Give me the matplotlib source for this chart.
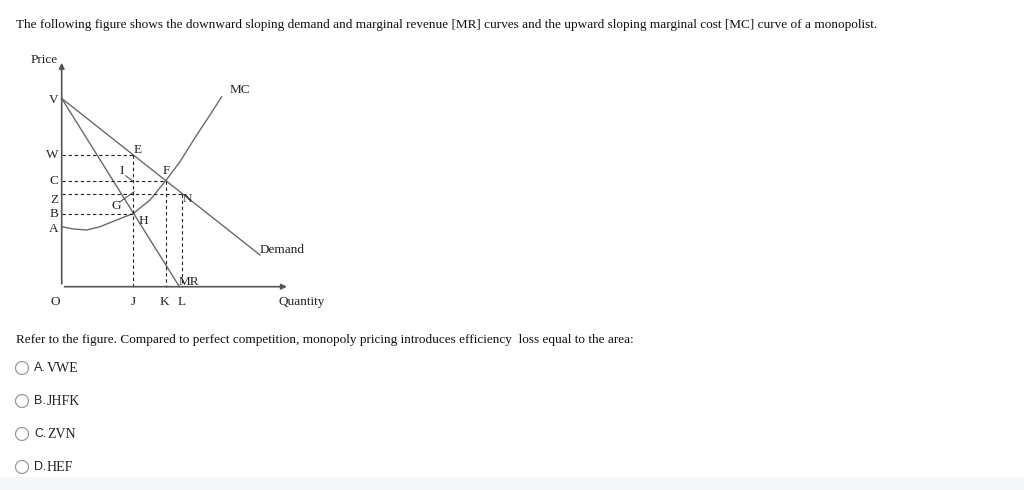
import numpy as np
import matplotlib.pyplot as plt
from matplotlib.patches import Circle

# diagram data (units = screen pixels of the original figure)
demand_x = [0, 198.3]
demand_y = [188.3, 31.7]
mr_x = [0, 117.7]
mr_y = [188.3, 0]
mc_x = [0, 11.7, 25, 38.3, 55, 71.7, 88.3, 104, 118.3, 135, 148.3, 160]
mc_y = [60, 57.7, 56.7, 60, 66.7, 73.3, 86.7, 106, 125, 151.7, 171.7, 190]

# price levels and quantities
price_labels = ['V', 'W', 'C', 'Z', 'B', 'A']
price_label_y = [186.7, 131.7, 106, 86.7, 72.7, 57.7]
qty_labels = ['O', 'J', 'K', 'L']
qty_label_x = [-6.7, 71.7, 102.7, 120]

# dashed guides: (level, x of the point)
guide_y = [131.7, 106, 92.7, 72.7]
guide_x = [71.7, 104, 120, 71.7]
guide_down = [True, True, True, False]

# point labels
pt_names = ['E', 'F', 'N', 'I', 'G', 'H']
pt_x = [72, 101, 121, 57.5, 50, 77]
pt_y = [137, 116, 88, 116, 81, 66]

top_text = ("The following figure shows the downward sloping demand and marginal revenue "
            "[MR] curves and the upward sloping marginal cost [MC] curve of a monopolist.")
question = ("Refer to the figure. Compared to perfect competition, monopoly pricing "
            "introduces efficiency  loss equal to the area:")
opt_letters = ['A.', 'B.', 'C.', 'D.']
opt_texts = ['VWE', 'JHFK', 'ZVN', 'HEF']
opt_y = [368, 401, 434, 467]

serif = 'Liberation Serif'
sans = 'Liberation Sans'
W, H = 1024, 490

fig = plt.figure(figsize=(W / 100, H / 100), dpi=100)
fig.patch.set_facecolor('white')

# page overlay in pixel coordinates
page = fig.add_axes([0, 0, 1, 1])
page.set_xlim(0, W)
page.set_ylim(H, 0)
page.axis('off')
page.add_patch(plt.Rectangle((0, 477), W, 13, color='#f6f7f8', lw=0))

page.text(16, 25, top_text, family=serif, fontsize=9.55, va='center', color='#111')
page.text(16, 340, question, family=serif, fontsize=9.55, va='center', color='#111')
for let, txt, y in zip(opt_letters, opt_texts, opt_y):
    page.add_patch(Circle((22, y), 6.5, fill=False, ec='#9a9a9a', lw=0.9))
    page.text(34, y, let, family=sans, fontsize=9, va='center', color='#222')
    page.text(47, y, txt, family=serif, fontsize=10, va='center', color='#222')

# the diagram axes: origin at pixel (61.7, 286.7)
ox, oy = 61.7, 286.7
xw, yh = 228, 226.7
ax = fig.add_axes([ox / W, (H - oy) / H, xw / W, yh / H])
ax.set_xlim(0, xw)
ax.set_ylim(0, yh)
ax.axis('off')

curve_col = '#6a6a6a'
ax.plot(demand_x, demand_y, color=curve_col, lw=1.0, clip_on=False)
ax.plot(mr_x, mr_y, color=curve_col, lw=1.0, clip_on=False)
ax.plot(mc_x, mc_y, color=curve_col, lw=1.0, clip_on=False)

for gy, gx, down in zip(guide_y, guide_x, guide_down):
    ax.plot([0, gx], [gy, gy], color='#222', lw=0.8, ls=(0, (3, 2.5)), clip_on=False)
    if down:
        ax.plot([gx, gx], [gy, 0], color='#222', lw=0.8, ls=(0, (3, 2.5)), clip_on=False)

# axes with arrows
ax.annotate('', xy=(0, yh), xytext=(0, 0),
            arrowprops=dict(arrowstyle='-|>', color='#555', lw=1.2, mutation_scale=8))
ax.annotate('', xy=(xw, 0), xytext=(0, 0),
            arrowprops=dict(arrowstyle='-|>', color='#555', lw=1.2, mutation_scale=8))

lab = dict(family=serif, fontsize=9.5, color='#222')
ax.text(-4, yh, 'Price', ha='right', va='center', **lab)
for name, y in zip(price_labels, price_label_y):
    ax.text(-3, y, name, ha='right', va='center', **lab)
for name, x in zip(qty_labels, qty_label_x):
    ax.text(x, -15, name, ha='center', va='center', **lab)
ax.text(240, -15, 'Quantity', ha='center', va='center', **lab)
for name, x, y in zip(pt_names, pt_x, pt_y):
    ax.text(x, y, name, ha='left', va='center', **lab)
ax.text(178, 196.7, 'MC', ha='center', va='center', **lab)
ax.text(198, 36.7, 'Demand', ha='left', va='center', **lab)
ax.text(117, 5, 'MR', ha='left', va='center', **lab)

# leader lines for I and G
ax.plot([64, 71.7], [111, 105], color='#444', lw=0.7)
ax.plot([58.5, 72.5], [85, 95], color='#444', lw=0.7)

fig.savefig('out.png', dpi=100)
